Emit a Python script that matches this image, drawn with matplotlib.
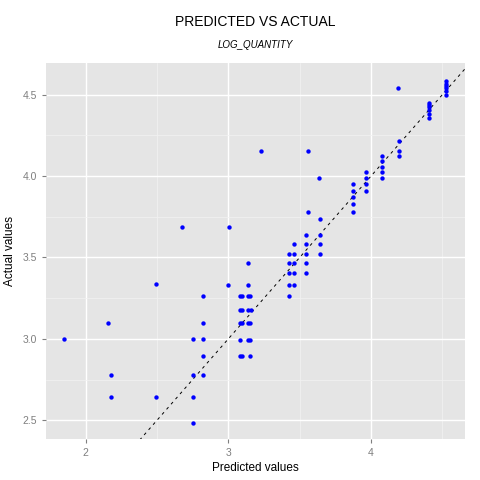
import numpy as np
import matplotlib.pyplot as plt

plt.rcParams["font.family"] = ["Liberation Sans", "DejaVu Sans"]

# predicted / actual pairs
predicted = [
    1.85, 2.16, 2.18, 2.18, 2.49, 2.49, 2.675,
    2.75, 2.75, 2.75, 2.75,
    2.82, 2.82, 2.82, 2.82, 2.82,
    3.0, 3.005,
    3.08, 3.094, 3.136, 3.15,
    3.08, 3.094, 3.14, 3.16,
    3.08, 3.094, 3.136, 3.15,
    3.08, 3.136, 3.15,
    3.08, 3.094, 3.15,
    3.136, 3.136, 3.227,
    3.424, 3.424, 3.424, 3.424, 3.424,
    3.46, 3.46, 3.46, 3.46, 3.46,
    3.542, 3.542, 3.542, 3.542, 3.542, 3.556, 3.556,
    3.636, 3.64, 3.64, 3.64, 3.64,
    3.874, 3.874, 3.874, 3.874, 3.874,
    3.967, 3.967, 3.967, 3.967,
    4.08, 4.08, 4.08, 4.08, 4.08,
    4.195, 4.195, 4.195, 4.19,
    4.409, 4.409, 4.409, 4.409, 4.409, 4.409,
    4.523, 4.523, 4.523, 4.523, 4.523, 4.523,
]
actual = [
    3.0, 3.10, 2.78, 2.64, 3.34, 2.64, 3.688,
    3.0, 2.78, 2.64, 2.485,
    3.263, 3.10, 3.0, 2.893, 2.78,
    3.334, 3.688,
    3.261, 3.261, 3.261, 3.261,
    3.18, 3.18, 3.18, 3.18,
    3.096, 3.096, 3.096, 3.096,
    2.996, 2.996, 2.996,
    2.893, 2.893, 2.893,
    3.334, 3.469, 4.153,
    3.524, 3.469, 3.402, 3.334, 3.261,
    3.585, 3.524, 3.469, 3.402, 3.334,
    3.64, 3.585, 3.524, 3.469, 3.402, 3.781, 4.153,
    3.99, 3.737, 3.64, 3.585, 3.524,
    3.953, 3.910, 3.872, 3.830, 3.781,
    4.026, 3.99, 3.953, 3.91,
    4.124, 4.094, 4.057, 4.026, 3.99,
    4.214, 4.155, 4.124, 4.541,
    4.449, 4.437, 4.424, 4.406, 4.384, 4.355,
    4.583, 4.563, 4.551, 4.539, 4.522, 4.498,
]

fig = plt.figure(figsize=(4.8, 4.8), dpi=100)
ax = fig.add_axes([46 / 480, 1 - 439.3 / 480, 419 / 480, 376 / 480])
ax.set_facecolor("#E5E5E5")
for s in ax.spines.values():
    s.set_visible(False)

ax.set_xlim(1.722, 4.659)
ax.set_ylim(2.383, 4.693)
ax.set_xticks([2, 3, 4])
ax.set_yticks([2.5, 3.0, 3.5, 4.0, 4.5])
ax.set_xticks([2.5, 3.5, 4.5], minor=True)
ax.set_yticks([2.75, 3.25, 3.75, 4.25], minor=True)
ax.grid(True, which="major", color="white", linewidth=1.0)
ax.grid(True, which="minor", color="#F2F2F2", linewidth=0.5)
ax.set_axisbelow(True)
ax.tick_params(which="major", length=3, width=0.8, color="#7F7F7F",
               labelcolor="#7F7F7F", labelsize=7.5)
ax.tick_params(which="minor", length=0)

# y = x reference line
lims = np.array([1.722, 4.659])
ax.plot(lims, lims, color="black", linestyle=(0, (3, 4)), linewidth=0.7, zorder=2)
ax.scatter(predicted, actual, s=10, color="blue", zorder=3, linewidths=0)

ax.set_xlabel("Predicted values", fontsize=8.5, labelpad=3)
ax.set_ylabel("Actual values", fontsize=8.5, labelpad=5)

fig.text(255.5 / 480, 1 - 22 / 480, "PREDICTED VS ACTUAL", ha="center", va="center", fontsize=10)
fig.text(255.5 / 480, 1 - 45 / 480, "LOG_QUANTITY", ha="center", va="center", fontsize=7,
         style="italic")

fig.savefig("out.png", dpi=100)
